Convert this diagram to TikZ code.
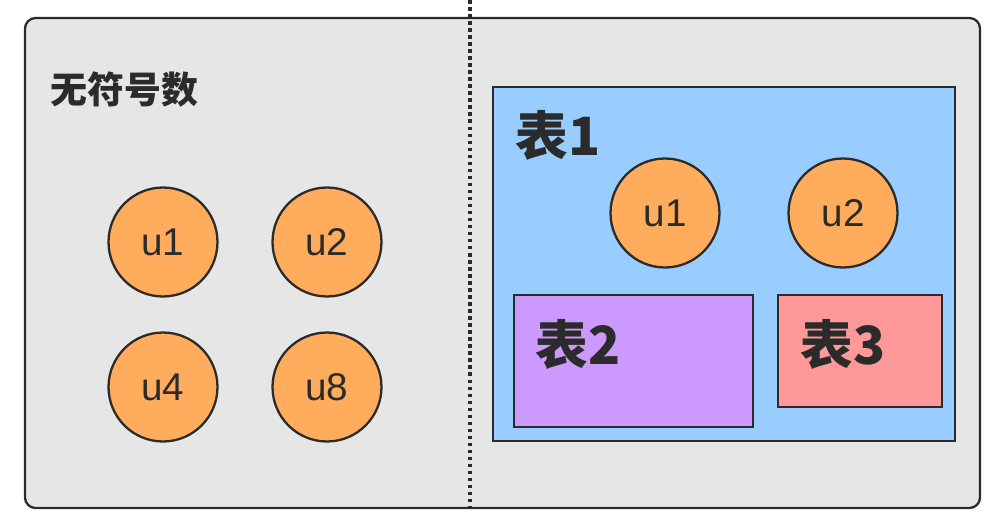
\documentclass[tikz,border=0pt]{standalone}
\usepackage{fontspec}
\setmainfont{Liberation Sans}
\newfontfamily\cjk{Noto Sans CJK SC}
\definecolor{bggray}{HTML}{E6E6E6}
\definecolor{orng}{HTML}{FFAD5C}
\definecolor{blu}{HTML}{99CCFF}
\definecolor{purp}{HTML}{CC99FF}
\definecolor{pnk}{HTML}{FF9999}
\definecolor{ink}{HTML}{2B2B2B}
\begin{document}
\begin{tikzpicture}[x=0.02cm,y=-0.02cm,
  circ/.style={circle,draw=ink,line width=1.3pt,fill=orng,minimum size=2.18cm,inner sep=0pt,font=\fontsize{22}{22}\selectfont,text=ink},
  box/.style={draw=ink,line width=1.3pt,rectangle},
  lab/.style={font=\cjk\bfseries\fontsize{30}{30}\selectfont,text=ink,anchor=west,inner sep=0pt}]
\useasboundingbox (0,0) rectangle (1001,518);
\draw[ink,line width=1.3pt,fill=bggray,rounded corners=6pt] (25,18) rectangle (980,508);
\draw[ink,line width=2pt,dash pattern=on 2pt off 2pt] (470,0) -- (470,508);
\node[font=\cjk\bfseries\fontsize{21}{21}\selectfont,text=ink,anchor=west,inner sep=0pt] (title) at (50,89) {无符号数};
\node[circ] (a1) at (163,242) {u1};
\node[circ] (a2) at (327,242) {u2};
\node[circ] (a4) at (163,387) {u4};
\node[circ] (a8) at (327,387) {u8};
\node[box,fill=blu,minimum width=9.24cm,minimum height=7.08cm] (t1) at (724,264) {};
\node[lab] (l1) at (515,135) {表1};
\node[circ] (b1) at (665,213) {u1};
\node[circ] (b2) at (843,213) {u2};
\node[box,fill=purp,minimum width=4.78cm,minimum height=2.64cm] (t2) at (633.5,361) {};
\node[lab] (l2) at (535,344) {表2};
\node[box,fill=pnk,minimum width=3.28cm,minimum height=2.24cm] (t3) at (860,351) {};
\node[lab] (l3) at (800,344) {表3};
\end{tikzpicture}
\end{document}
